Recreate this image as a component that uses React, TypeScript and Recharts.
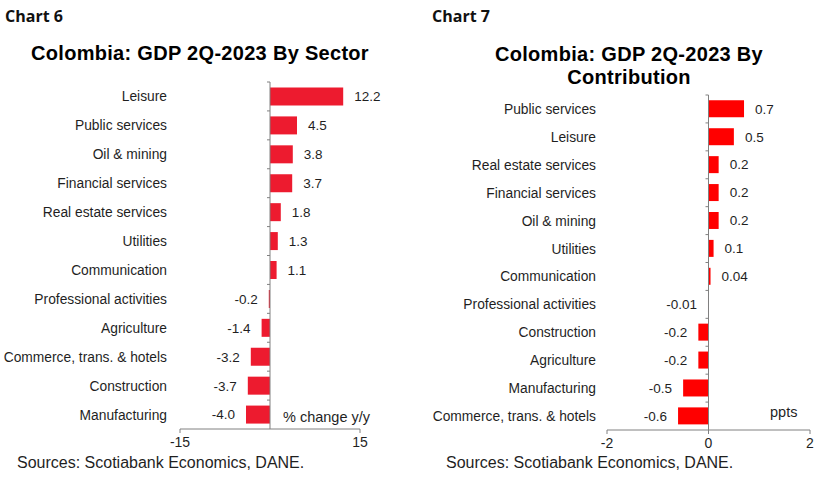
import { BarChart, Bar, XAxis, YAxis, ReferenceLine, LabelList } from "recharts";

// Chart 6: y/y % change by sector
const sectorNames = [
  "Leisure",
  "Public services",
  "Oil & mining",
  "Financial services",
  "Real estate services",
  "Utilities",
  "Communication",
  "Professional activities",
  "Agriculture",
  "Commerce, trans. & hotels",
  "Construction",
  "Manufacturing",
];
const sectorChange = [12.2, 4.5, 3.8, 3.7, 1.8, 1.3, 1.1, -0.2, -1.4, -3.2, -3.7, -4.0];
const sectorTicks = [-15, 15];

// Chart 7: contribution in ppts
const contribNames = [
  "Public services",
  "Leisure",
  "Real estate services",
  "Financial services",
  "Oil & mining",
  "Utilities",
  "Communication",
  "Professional activities",
  "Construction",
  "Agriculture",
  "Manufacturing",
  "Commerce, trans. & hotels",
];
const contribValues = [0.7, 0.5, 0.2, 0.2, 0.2, 0.1, 0.04, -0.01, -0.2, -0.2, -0.5, -0.6];
const contribTicks = [-2, 0, 2];

const sectorData = sectorNames.map((name, i) => ({ name, value: sectorChange[i] }));
const contribData = contribNames.map((name, i) => ({ name, value: contribValues[i] }));

const FONT = "'Liberation Sans', Arial, sans-serif";
const TEXT = "#1f1f1f";
const AXIS = "#808080";

type Panel = {
  left: number;
  top: number;
  bottom: number;
  yWidth: number;
  right: number;
  gap: number;
  domain: [number, number];
};

const CHART_W = 414;
const CHART_H = 483;

function makeTick(p: Panel, count: number) {
  const plotW = CHART_W - p.right - p.yWidth;
  const zeroX = p.yWidth + (plotW * (0 - p.domain[0])) / (p.domain[1] - p.domain[0]);
  const band = (CHART_H - p.bottom - p.top) / count;
  return (props: any) => {
    const { y, payload } = props;
    return (
      <g>
        <text
          x={p.yWidth - p.gap}
          y={y}
          dy="0.36em"
          textAnchor="end"
          fill={TEXT}
          fontSize={13.8}
          fontFamily={FONT}
        >
          {payload.value}
        </text>
        <line x1={zeroX - 3} x2={zeroX} y1={y - band / 2} y2={y - band / 2} stroke={AXIS} />
      </g>
    );
  };
}

function makeLabel(fmt: (v: number) => string) {
  return (props: any) => {
    const { x, y, width, height, value } = props;
    const l = Math.min(x, x + width);
    const r = Math.max(x, x + width);
    const neg = value < 0;
    return (
      <text
        x={neg ? l - 11 : r + 11}
        y={y + height / 2}
        dy="0.36em"
        textAnchor={neg ? "end" : "start"}
        fill={TEXT}
        fontSize={13.5}
        fontFamily={FONT}
      >
        {fmt(value)}
      </text>
    );
  };
}

function HBar({ data, panel, ticks, color, fmt }: any) {
  const p: Panel = panel;
  return (
    <div style={{ position: "absolute", left: p.left, top: 0 }}>
      <BarChart
        width={CHART_W}
        height={CHART_H}
        data={data}
        layout="vertical"
        margin={{ top: p.top, right: p.right, bottom: 0, left: 0 }}
        barCategoryGap="19%"
      >
        <XAxis
          type="number"
          domain={p.domain}
          ticks={ticks}
          interval={0}
          height={p.bottom}
          tickSize={4}
          tickMargin={4}
          stroke={AXIS}
          tick={{ fill: TEXT, fontSize: 14, fontFamily: FONT }}
        />
        <YAxis
          type="category"
          dataKey="name"
          width={p.yWidth}
          axisLine={false}
          tickLine={false}
          tickSize={0}
          interval={0}
          tick={makeTick(p, data.length)}
        />
        <Bar dataKey="value" fill={color} isAnimationActive={false}>
          <LabelList dataKey="value" content={makeLabel(fmt)} />
        </Bar>
        <ReferenceLine x={0} stroke={AXIS} />
      </BarChart>
    </div>
  );
}

const chartLabel: React.CSSProperties = {
  position: "absolute",
  fontFamily: "'Open Sans', sans-serif",
  fontWeight: 700,
  fontSize: 16,
  color: "#111",
  lineHeight: "20px",
};
const titleStyle: React.CSSProperties = {
  position: "absolute",
  fontFamily: FONT,
  fontWeight: 700,
  fontSize: 20,
  letterSpacing: 0.3,
  color: "#000",
  textAlign: "center",
  lineHeight: "23px",
};
const sourceStyle: React.CSSProperties = {
  position: "absolute",
  fontFamily: FONT,
  fontSize: 16,
  color: TEXT,
  lineHeight: "18px",
};
const unitStyle: React.CSSProperties = {
  position: "absolute",
  fontFamily: FONT,
  fontSize: 14.5,
  color: TEXT,
  lineHeight: "16px",
};

export default function App() {
  return (
    <div
      style={{
        position: "absolute",
        left: 0,
        top: 0,
        width: 828,
        height: 483,
        background: "#fff",
        overflow: "hidden",
      }}
    >
      <div style={{ ...chartLabel, left: 5, top: 6 }}>Chart 6</div>
      <div style={{ ...chartLabel, left: 432, top: 6 }}>Chart 7</div>

      <div style={{ ...titleStyle, left: 0, width: 400, top: 42 }}>Colombia: GDP 2Q-2023 By Sector</div>
      <div style={{ ...titleStyle, left: 474, width: 310, top: 43 }}>
        Colombia: GDP 2Q-2023 By
        <br />
        Contribution
      </div>

      <HBar
        data={sectorData}
        panel={{ left: 0, top: 82, bottom: 54, yWidth: 180, right: 54, gap: 13, domain: [-15, 15] }}
        ticks={sectorTicks}
        color="#ED1B2F"
        fmt={(v: number) => v.toFixed(1)}
      />
      <HBar
        data={contribData}
        panel={{ left: 414, top: 95, bottom: 53, yWidth: 193, right: 18, gap: 11, domain: [-2, 2] }}
        ticks={contribTicks}
        color="#FF0000"
        fmt={(v: number) => String(v)}
      />

      <div style={{ ...unitStyle, left: 283, top: 409 }}>% change y/y</div>
      <div style={{ ...unitStyle, left: 770, top: 404 }}>ppts</div>

      <div style={{ ...sourceStyle, left: 17, top: 454 }}>Sources: Scotiabank Economics, DANE.</div>
      <div style={{ ...sourceStyle, left: 446, top: 454 }}>Sources: Scotiabank Economics, DANE.</div>
    </div>
  );
}
